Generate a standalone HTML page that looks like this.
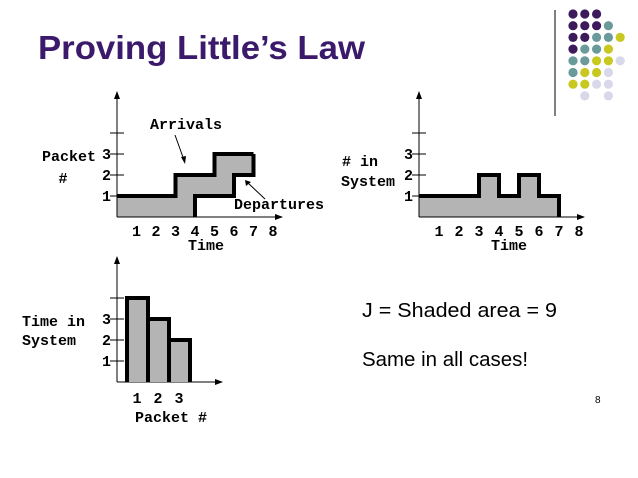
<!DOCTYPE html>
<html><head><meta charset="utf-8"><style>
body{margin:0;width:638px;height:478px;background:#fff;overflow:hidden;font-family:"Liberation Sans",sans-serif}
svg{position:absolute;left:0;top:0}
.m{font-family:"Liberation Mono",monospace;font-weight:bold;font-size:15px;fill:#000}
</style></head><body>
<svg width="638" height="478">
<text x="38" y="59" font-size="33" font-weight="bold" fill="#3b1a6b" textLength="327" lengthAdjust="spacingAndGlyphs" font-family="Liberation Sans,sans-serif">Proving Little’s Law</text>
<line x1="555" y1="10" x2="555" y2="116" stroke="#555" stroke-width="1.5"/>
<g id="dots"></g>
<g id="c1"></g>
<g id="c2"></g>
<g id="c3"></g>
<text x="362" y="317" font-size="20" fill="#000" textLength="195" lengthAdjust="spacingAndGlyphs">J = Shaded area = 9</text>
<text x="362" y="366" font-size="20" fill="#000" textLength="166" lengthAdjust="spacingAndGlyphs">Same in all cases!</text>
<text x="595" y="403" font-size="10" fill="#000">8</text>
</svg>
<script>
const arrivalTimes=[0,3,5];
const departureTimes=[4,6,7];
const inSysSteps=[[0,1],[3,2],[4,1],[5,2],[6,1],[7,0]];
const packets=[1,2,3];
const timeInSystem=[4,3,2];
const timeTicks=[1,2,3,4,5,6,7,8];
const yTicks=[1,2,3];
const NS='http://www.w3.org/2000/svg';
function el(p,t,a,txt){const e=document.createElementNS(NS,t);for(const k in a)e.setAttribute(k,a[k]);if(txt!=null)e.textContent=txt;p.appendChild(e);return e;}
const P='#3d1a5c',T='#6a9a9a',Y='#c8c820',L='#d8d8ea';
const rows=[[P,P,P],[P,P,P,T],[P,P,T,T,Y],[P,T,T,Y],[T,T,Y,Y,L],[T,Y,Y,L],[Y,Y,L,L],[null,L,null,L]];
const dg=document.getElementById('dots');
rows.forEach((r,i)=>r.forEach((c,j)=>{if(!c)return;const d=el(dg,'circle',{cx:573+j*11.8,cy:14+i*11.7,r:4.6,fill:c});

}));
function axes(g,x0,y0,u,v,xl,yticks,topTick,xticks){
 el(g,'line',{x1:x0,y1:y0,x2:x0,y2:y0-125,stroke:'#000','stroke-width':1});
 el(g,'path',{d:`M${x0-3} ${y0-118}L${x0} ${y0-126}L${x0+3} ${y0-118}Z`});
 el(g,'line',{x1:x0,y1:y0,x2:x0+xl,y2:y0,stroke:'#000','stroke-width':1});
 if(xl>100)el(g,'path',{d:`M${x0+xl-7} ${y0-3}L${x0+xl+1} ${y0}L${x0+xl-7} ${y0+3}Z`});
 yticks.concat([topTick]).forEach(t=>el(g,'line',{x1:x0-7,y1:y0-t*v,x2:x0+7,y2:y0-t*v,stroke:'#000','stroke-width':1}));
 yticks.forEach(t=>{const e=el(g,'text',{class:'m',x:x0-6,y:y0-t*v+5,'text-anchor':'end'},t);
 
 });
 xticks.forEach(t=>{const e=el(g,'text',{class:'m',x:x0+t*u,y:y0+19,'text-anchor':'middle'},t);
 
 });
}
// chart 1
{const g=document.getElementById('c1');const x0=117,y0=217,u=19.5,v=21;
const X=t=>x0+t*u,Yv=n=>y0-n*v;
const lastT=departureTimes[departureTimes.length-1];
let ap=[];let n=0;arrivalTimes.forEach((t,i)=>{if(i>0)ap.push([X(t),Yv(n)]);n++;ap.push([X(t),Yv(n)]);});
ap.push([X(lastT),Yv(n)]);
let dp=[];n=0;departureTimes.forEach((t,i)=>{if(i>0)dp.push([X(t),Yv(n)]);else dp.push([X(t),Yv(0)]);n++;dp.push([X(t),Yv(n)]);});
const pth=pts=>pts.map((p,i)=>(i?'L':'M')+p[0]+' '+p[1]).join('');
let areaPts=[[X(0),Yv(0)]].concat(ap).concat(dp.slice().reverse());
const s=el(g,'path',{d:pth(areaPts)+'Z',fill:'#b4b4b4'});
axes(g,x0,y0,u,v,165,yTicks,4,timeTicks);
const la=el(g,'path',{d:pth(ap),fill:'none',stroke:'#000','stroke-width':4});
const ld=el(g,'path',{d:pth(dp),fill:'none',stroke:'#000','stroke-width':4});
el(g,'text',{class:'m',x:96,y:161,'text-anchor':'end'},'Packet');
el(g,'text',{class:'m',x:63,y:183,'text-anchor':'middle'},'#');
el(g,'text',{class:'m',x:206,y:250,'text-anchor':'middle'},'Time');
el(g,'text',{class:'m',x:150,y:129},'Arrivals');
el(g,'line',{x1:175,y1:135,x2:184,y2:160,stroke:'#000'});el(g,'path',{d:'M181 157L185 164L186 156Z'});
el(g,'text',{class:'m',x:234,y:209},'Departures');
el(g,'line',{x1:265,y1:199,x2:248,y2:183,stroke:'#000'});el(g,'path',{d:'M246 186L245 180L251 182Z'});
}
// chart 2
{const g=document.getElementById('c2');const x0=419,y0=217,u=20,v=21;const X=t=>x0+t*u,Yv=n=>y0-n*v;
let p=`M${X(0)} ${Yv(inSysSteps[0][1])}`,prev=inSysSteps[0][1];
inSysSteps.slice(1).forEach(([t,n])=>{p+=`L${X(t)} ${Yv(prev)}L${X(t)} ${Yv(n)}`;prev=n;});
const s=el(g,'path',{d:p+`L${X(0)} ${Yv(0)}Z`,fill:'#b4b4b4'});
axes(g,x0,y0,u,v,165,yTicks,4,timeTicks);
const l=el(g,'path',{d:p,fill:'none',stroke:'#000','stroke-width':4});
el(g,'text',{class:'m',x:342,y:166},'# in');
el(g,'text',{class:'m',x:341,y:186},'System');
el(g,'text',{class:'m',x:509,y:250,'text-anchor':'middle'},'Time');
}
// chart 3
{const g=document.getElementById('c3');const x0=117,y0=382,u=21,v=21;
axes(g,x0,y0,u,v,105,yTicks,4,[]);
packets.forEach((p,i)=>{const x=x0+10+i*u,h=timeInSystem[i]*v;
const b=el(g,'path',{d:`M${x} ${y0}L${x} ${y0-h}L${x+u} ${y0-h}L${x+u} ${y0}`,fill:'#b4b4b4',stroke:'#000','stroke-width':4});


el(g,'text',{class:'m',x:x0+20+i*u,y:y0+21,'text-anchor':'middle'},p);});
el(g,'text',{class:'m',x:22,y:326},'Time in');
el(g,'text',{class:'m',x:22,y:345},'System');
el(g,'text',{class:'m',x:135,y:422},'Packet #');
}
</script>
</body></html>
